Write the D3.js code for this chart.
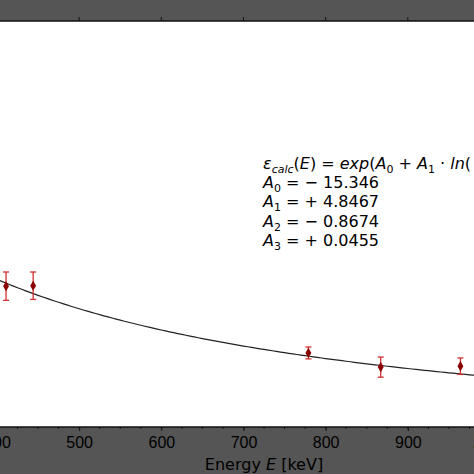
<!DOCTYPE html>
<html><head><meta charset="utf-8">
<script src="https://cdn.jsdelivr.net/npm/d3@7"></script>
<style>body{margin:0;background:#fff;overflow:hidden}svg{display:block;font-family:"DejaVu Sans",sans-serif}</style>
</head><body><svg id="c" width="474" height="474"></svg>
<script>
const energies=[411,444,779,867,964];
const effs=[4.57e-4,4.58e-4,3.11e-4,2.80e-4,2.82e-4];
const errs=[3.1e-5,3.0e-5,1.3e-5,2.2e-5,1.8e-5];
const coeffs=[-15.346,4.8467,-0.8674,0.0455];
const xTicks=[400,500,600,700,800,900,1000];
const coeffLabels=["− 15.346","+ 4.8467","− 0.8674","+ 0.0455"];

const svg=d3.select("#c");
const yTop=21,yBot=427;
const x=d3.scaleLinear().domain([400,1000]).range([-3,490]);
const y=d3.scaleLinear().domain([1.49e-4,1.037e-3]).range([yBot,yTop]);
svg.append("rect").attr("width",474).attr("height",474).attr("fill","#555");
svg.append("rect").attr("x",-10).attr("y",yTop).attr("width",500).attr("height",yBot-yTop).attr("fill","#fff");
svg.append("line").attr("x1",0).attr("x2",474).attr("y1",yTop).attr("y2",yTop).attr("stroke","#111").attr("stroke-width",1.5);
svg.append("line").attr("x1",0).attr("x2",474).attr("y1",yBot).attr("y2",yBot).attr("stroke","#111").attr("stroke-width",1.5);
const minor=d3.range(400,1001,25);
const gb=svg.append("g").attr("transform",`translate(0,${yBot})`);
gb.call(d3.axisBottom(x).tickValues(xTicks).tickSize(4).tickFormat(d3.format("d")));
gb.select(".domain").remove();
gb.selectAll("text").attr("font-size",16).attr("fill","#000").attr("dy","0.9em");
gb.selectAll("line").attr("stroke","#111");
gb.selectAll("line.mn").data(minor).join("line").attr("class","mn").attr("x1",d=>x(d)).attr("x2",d=>x(d)).attr("y1",0).attr("y2",2).attr("stroke","#111");
const gt=svg.append("g").attr("transform",`translate(0,${yTop})`);
gt.selectAll("line").data(xTicks).join("line").attr("x1",d=>x(d)).attr("x2",d=>x(d)).attr("y1",-4).attr("y2",0).attr("stroke","#111");
svg.append("text").attr("x",264).attr("y",470).attr("text-anchor","middle").attr("font-size",16).attr("fill","#000")
 .html('Energy <tspan font-style="italic">E</tspan> [keV]');
const fit=e=>{const l=Math.log(e);return Math.exp(coeffs[0]+coeffs[1]*l+coeffs[2]*l*l+coeffs[3]*l*l*l);};
const es=d3.range(395,1005,5);
svg.append("path").attr("d",d3.line().x(d=>x(d)).y(d=>y(fit(d)))(es)).attr("fill","none").attr("stroke","#222").attr("stroke-width",1.2);
const data=energies.map((e,i)=>({e,v:effs[i],er:errs[i]}));
const pts=svg.append("g").selectAll("g").data(data).join("g");
pts.append("line").attr("x1",d=>x(d.e)).attr("x2",d=>x(d.e)).attr("y1",d=>y(d.v-d.er)).attr("y2",d=>y(d.v+d.er)).attr("stroke","#d03030").attr("stroke-width",1.3);
[-1,1].forEach(s=>pts.append("line").attr("x1",d=>x(d.e)-3).attr("x2",d=>x(d.e)+3).attr("y1",d=>y(d.v+s*d.er)).attr("y2",d=>y(d.v+s*d.er)).attr("stroke","#d03030").attr("stroke-width",1.3));
pts.append("path").attr("transform",d=>`translate(${x(d.e)},${y(d.v)})`).attr("d",d3.symbol(d3.symbolDiamond,30)).attr("fill","#8b0000");
const t=svg.append("g").attr("font-size",16).attr("fill","#000");
t.append("text").attr("x",263).attr("y",169).html('<tspan font-style="italic">ε</tspan><tspan font-style="italic" font-size="11" dy="4">calc</tspan><tspan dy="-4">(</tspan><tspan font-style="italic">E</tspan>) = <tspan font-style="italic">exp</tspan>(<tspan font-style="italic">A</tspan><tspan font-size="11" dy="4">0</tspan><tspan dy="-4"> + </tspan><tspan font-style="italic">A</tspan><tspan font-size="11" dy="4">1</tspan><tspan dy="-4"> · </tspan><tspan font-style="italic">ln</tspan>(');
coeffLabels.forEach((b,i)=>{
 t.append("text").attr("x",263).attr("y",188+i*19.3).html(`<tspan font-style="italic">A</tspan><tspan font-size="11" dy="4">${i}</tspan><tspan dy="-4"> = ${b}</tspan>`);});
</script></body></html>
